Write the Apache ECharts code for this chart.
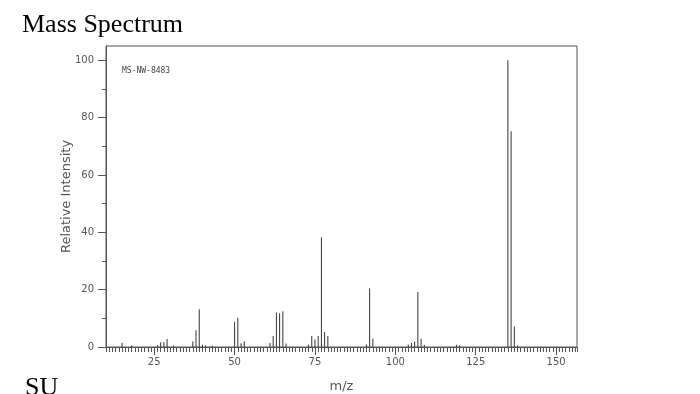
<!DOCTYPE html>
<html>
<head>
<meta charset="utf-8">
<script src="https://cdn.jsdelivr.net/npm/echarts@6/dist/echarts.min.js"></script>
<style>html,body{margin:0;padding:0;background:#fff}#c{width:700px;height:394px}</style>
</head>
<body>
<div id="c"></div>
<script>
var mz = [15,18,26,27,28,29,31,37,38,39,40,41,43,50,51,52,53,61,62,63,64,65,66,73,74,75,76,77,78,79,91,92,93,104,105,106,107,108,109,119,120,135,136,137,138];
var intensity = [1.5,0.6,0.6,1.7,1.7,2.8,0.5,1.9,5.8,13.2,0.8,0.5,0.5,8.8,10.2,1.3,2.0,1.4,3.8,12.0,11.8,12.5,1.2,0.9,3.8,2.6,3.8,38.3,5.2,3.8,0.9,20.4,2.9,0.9,1.4,1.9,19.2,2.9,0.8,0.8,0.6,100,75.3,7.2,0.5];
var xTickLabels = [25,50,75,100,125,150];
var yTickLabels = [0,20,40,60,80,100];
var yMinorTicks = [10,30,50,70,90];

var points = mz.map(function(m,i){return [m,intensity[i]];});
var axisColor = '#555';
var chart = echarts.init(document.getElementById('c'), null, {renderer:'canvas'});
chart.setOption({
  animation:false,
  graphic:[
    {type:'text', left:22, top:12, style:{text:'Mass Spectrum', fontFamily:'Liberation Serif', fontSize:26, fill:'#000'}},
    {type:'text', left:25, top:375, style:{text:'SU', fontFamily:'Liberation Serif', fontSize:26, fill:'#000'}},
    {type:'text', left:122, top:67, style:{text:'MS-NW-8483', fontFamily:'DejaVu Sans Mono', fontSize:8, fill:'#444'}}
  ],
  grid:{left:106, right:123, top:46, bottom:47, outerBoundsMode:'none', containLabel:false,
    show:true, borderColor:axisColor, borderWidth:1, backgroundColor:'transparent'},
  xAxis:[
    {type:'value', min:10, max:156.5, interval:1, position:'bottom',
     axisLine:{show:true, lineStyle:{color:axisColor}},
     axisTick:{show:true, length:5, inside:false, lineStyle:{color:axisColor}},
     axisLabel:{show:false}, splitLine:{show:false}},
    {type:'value', min:10, max:156.5, position:'bottom',
     name:'m/z', nameLocation:'middle', nameGap:33, nameMoveOverlap:false,
     nameTextStyle:{fontFamily:'DejaVu Sans', fontSize:13, color:axisColor},
     axisLine:{show:false},
     axisTick:{show:true, length:8, customValues:xTickLabels, lineStyle:{color:axisColor}},
     axisLabel:{show:true, customValues:xTickLabels, fontFamily:'DejaVu Sans', fontSize:10, color:axisColor, margin:10},
     splitLine:{show:false}}
  ],
  yAxis:[
    {type:'value', min:0, max:105,
     name:'Relative Intensity', nameLocation:'middle', nameGap:33, nameMoveOverlap:false,
     nameTextStyle:{fontFamily:'DejaVu Sans', fontSize:13, color:axisColor},
     axisLine:{show:true, lineStyle:{color:axisColor}},
     axisTick:{show:true, length:8, customValues:yTickLabels, lineStyle:{color:axisColor}},
     axisLabel:{show:true, customValues:yTickLabels, fontFamily:'DejaVu Sans', fontSize:10, color:axisColor, margin:12},
     splitLine:{show:false}},
    {type:'value', min:0, max:105, position:'left',
     axisLine:{show:false},
     axisTick:{show:true, length:4, customValues:yMinorTicks, lineStyle:{color:axisColor}},
     axisLabel:{show:false}, splitLine:{show:false}}
  ],
  series:[{type:'bar', xAxisIndex:0, yAxisIndex:0, data:points, barWidth:1,
    itemStyle:{color:'#333'}, silent:true}]
});
</script>
</body>
</html>
